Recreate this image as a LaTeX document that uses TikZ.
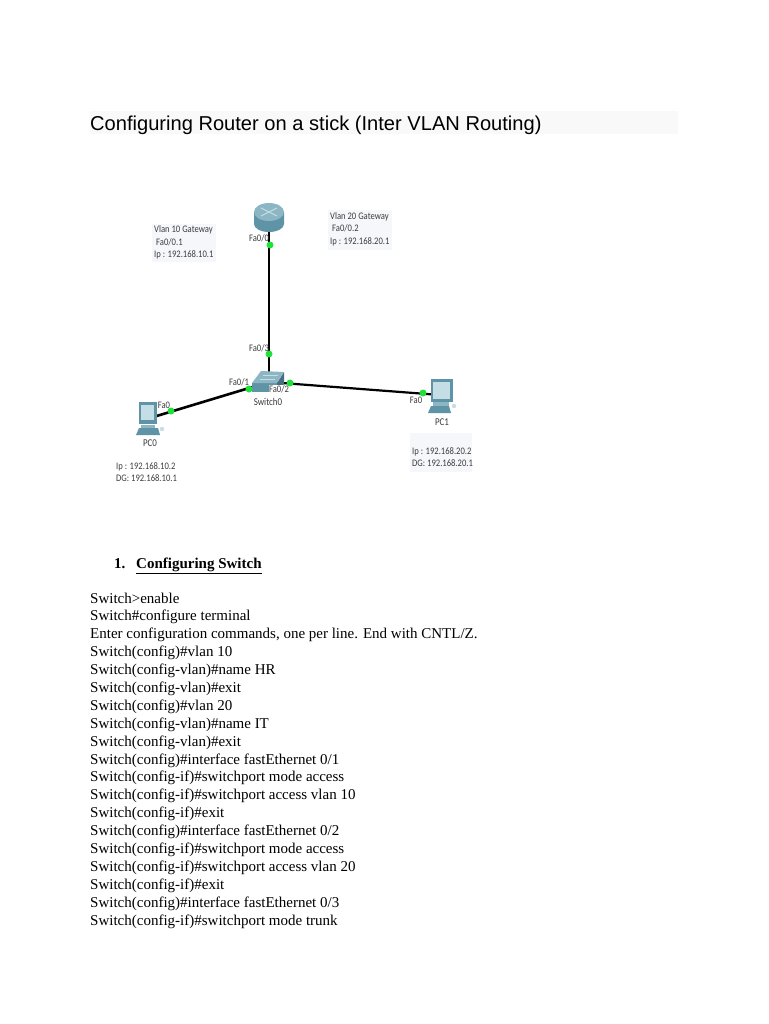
\documentclass[tikz,border=0pt]{standalone}
\usepackage{fontspec}
\setmainfont{Liberation Serif}
\newfontfamily\titlefont{Liberation Sans}
\newfontfamily\labelfont[FakeStretch=0.86]{Carlito}
\definecolor{devdark}{HTML}{5F93A6}
\definecolor{devmid}{HTML}{8DB6C4}
\definecolor{devlight}{HTML}{C5DDE5}
\definecolor{labelbg}{HTML}{F5F7FB}
\definecolor{titlebg}{HTML}{F9F9F9}
\definecolor{labeltxt}{HTML}{3C3C3C}
\definecolor{porton}{HTML}{22E03A}
\tikzset{
  px/.style={x=1pt,y=-1pt},
  bodyline/.style={anchor=base west,inner sep=0pt,font=\fontsize{15}{17}\selectfont,text=black},
  netlabel/.style={anchor=base west,inner sep=0pt,font=\labelfont\fontsize{10}{11}\selectfont,text=labeltxt},
  portlabel/.style={anchor=center,inner sep=0pt,font=\labelfont\fontsize{10}{11}\selectfont,text=labeltxt},
  devlabel/.style={anchor=center,inner sep=0pt,font=\labelfont\fontsize{10.4}{11}\selectfont,text=labeltxt},
  link/.style={draw=black,line width=2.2pt},
  portdot/.style={circle,fill=porton,draw=none,minimum size=7pt,inner sep=0pt},
  anchorpt/.style={inner sep=0pt,minimum size=0pt},
}
\begin{document}
\begin{tikzpicture}[px]
\useasboundingbox (0,0) rectangle (768,1024);
\fill[white] (0,0) rectangle (768,1024);
% title
\fill[titlebg] (90,111) rectangle (678,134);
\node (title) [anchor=base west,inner sep=0pt,font=\titlefont\fontsize{20.1}{24}\selectfont] at (90,131) {Configuring Router on a stick (Inter VLAN Routing)};
% label backgrounds
\fill[labelbg] (152,224) rectangle (216,262);
\fill[labelbg] (328,210) rectangle (392,250);
\fill[labelbg] (410,433) rectangle (472,472);
% device anchors
\node (router) [anchorpt] at (269,225) {};
\node (sw) [anchorpt] at (269,382) {};
\node (pc0) [anchorpt] at (150,418) {};
\node (pc1) [anchorpt] at (440,395) {};
% links
\draw[link] (router) -- (sw);
\draw[link,line width=2.6pt] (sw) -- (pc0);
\draw[link] (sw) -- (pc1);
% router icon
\fill[devdark] (254,212) -- (254,224) arc[start angle=180,end angle=0,x radius=15,y radius=8] -- (284,212) -- cycle;
\fill[devmid] (269,212) ellipse[x radius=15,y radius=9];
\draw[devlight,line width=1pt] (261,208) -- (277,216) (261,216) -- (277,208);
% switch icon
\fill[devdark] (252,383) -- (277,383) -- (277,392) -- (252,392) -- cycle;
\fill[devdark!75!black] (277,383) -- (284,372) -- (284,384) -- (277,392) -- cycle;
\fill[devmid] (252,383) -- (261,371) -- (284,372) -- (277,383) -- cycle;
\draw[devlight,line width=.5pt] (260,379) -- (275,379) (263,375) -- (278,375);
% PC0 icon
\fill[devdark] (139,402) -- (157,402) -- (157,424) -- (139,424) -- cycle;
\fill[devlight] (141,405) rectangle (154,420);
\fill[devmid] (141,425) rectangle (155,428);
\fill[devdark] (136,435) -- (139,428) -- (158,428) -- (160,435) -- cycle;
\fill[devlight] (162,429) circle[radius=2.2];
% PC1 icon
\fill[devdark] (431,379) -- (453,379) -- (453,402) -- (431,402) -- cycle;
\fill[devlight] (433,382) rectangle (450,399);
\fill[devmid] (433,402) rectangle (449,406);
\fill[devdark] (428,413) -- (431,406) -- (449,406) -- (451,413) -- cycle;
\fill[devlight] (454,406) circle[radius=2.2];
% port labels
\node (lp1) [portlabel] at (259,238) {Fa0/0};
\node (lp2) [portlabel] at (259,348) {Fa0/3};
\node (lp3) [portlabel] at (239,382) {Fa0/1};
\node (lp4) [portlabel,fill=white,inner sep=.5pt] at (279,389) {Fa0/2};
\node (lp5) [portlabel,fill=white,inner sep=.5pt] at (164,405) {Fa0};
\node (lp6) [portlabel] at (416,400) {Fa0};
% port dots
\node (p1) [portdot] at (270,245) {};
\node (p2) [portdot] at (269,354) {};
\node (p3) [portdot] at (249,389) {};
\node (p4) [portdot] at (290,383) {};
\node (p5) [portdot] at (171,411) {};
\node (p6) [portdot] at (423,393) {};
% device labels
\node (lsw) [devlabel] at (268,402) {Switch0};
\node (lpc0) [devlabel] at (150,443) {PC0};
\node (lpc1) [devlabel] at (442,422) {PC1};
% network notes
\node (n1) [netlabel] at (154,233) {Vlan 10 Gateway};
\node (n2) [netlabel] at (156,245) {Fa0/0.1};
\node (n3) [netlabel] at (154,258) {Ip : 192.168.10.1};
\node (n4) [netlabel] at (330,220) {Vlan 20 Gateway};
\node (n5) [netlabel] at (332,232) {Fa0/0.2};
\node (n6) [netlabel] at (330,244) {Ip : 192.168.20.1};
\node (n7) [netlabel] at (116,469) {Ip : 192.168.10.2};
\node (n8) [netlabel] at (116,481) {DG: 192.168.10.1};
\node (n9) [netlabel] at (412,454) {Ip : 192.168.20.2};
\node (n10) [netlabel] at (412,466) {DG: 192.168.20.1};
% heading
\node (h1) [bodyline,font=\bfseries\fontsize{15}{17}\selectfont] at (114,568) {1.};
\node (h2) [bodyline,font=\bfseries\fontsize{15}{17}\selectfont] at (136,568) {\underline{Configuring Switch}};
% body text
\node (b1) [bodyline] at (90,603) {Switch>enable};
\node (b2) [bodyline] at (90,620.9) {Switch\#configure terminal};
\node (b3) [bodyline] at (90,638.8) {Enter configuration commands, one per line. End with CNTL/Z.};
\node (b4) [bodyline] at (90,656.7) {Switch(config)\#vlan 10};
\node (b5) [bodyline] at (90,674.6) {Switch(config-vlan)\#name HR};
\node (b6) [bodyline] at (90,692.5) {Switch(config-vlan)\#exit};
\node (b7) [bodyline] at (90,710.3) {Switch(config)\#vlan 20};
\node (b8) [bodyline] at (90,728.2) {Switch(config-vlan)\#name IT};
\node (b9) [bodyline] at (90,746.1) {Switch(config-vlan)\#exit};
\node (b10) [bodyline] at (90,764) {Switch(config)\#interface fastEthernet 0/1};
\node (b11) [bodyline] at (90,781.9) {Switch(config-if)\#switchport mode access};
\node (b12) [bodyline] at (90,799.8) {Switch(config-if)\#switchport access vlan 10};
\node (b13) [bodyline] at (90,817.7) {Switch(config-if)\#exit};
\node (b14) [bodyline] at (90,835.6) {Switch(config)\#interface fastEthernet 0/2};
\node (b15) [bodyline] at (90,853.5) {Switch(config-if)\#switchport mode access};
\node (b16) [bodyline] at (90,871.4) {Switch(config-if)\#switchport access vlan 20};
\node (b17) [bodyline] at (90,889.2) {Switch(config-if)\#exit};
\node (b18) [bodyline] at (90,907.1) {Switch(config)\#interface fastEthernet 0/3};
\node (b19) [bodyline] at (90,925) {Switch(config-if)\#switchport mode trunk};
\end{tikzpicture}
\end{document}
